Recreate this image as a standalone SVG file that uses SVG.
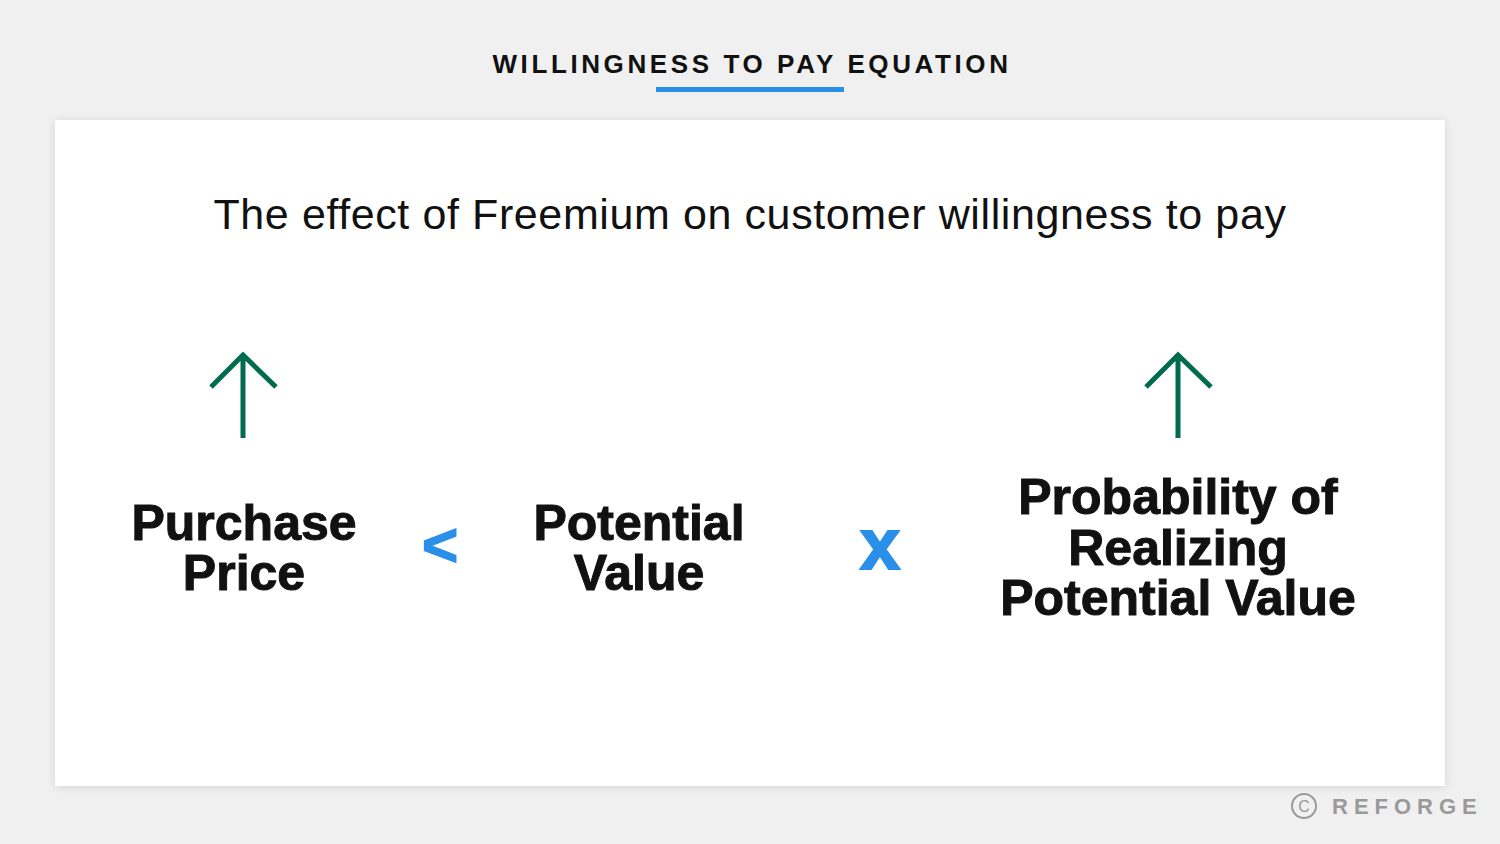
<svg xmlns="http://www.w3.org/2000/svg" width="1500" height="844" viewBox="0 0 1500 844">
<defs>
<style>
.title{font-family:"Liberation Sans",Arial,sans-serif;font-weight:bold;font-size:26px;letter-spacing:3.6px;fill:#111;}
.sub{font-family:"Liberation Sans",Arial,sans-serif;font-size:43px;letter-spacing:0.6px;fill:#111;}
.lbl{font-family:"Liberation Sans",Arial,sans-serif;font-weight:bold;font-size:50px;fill:#111;stroke:#111;stroke-width:1;}
.op{font-family:"Liberation Sans",Arial,sans-serif;font-weight:bold;fill:#2a8fe8;stroke:#2a8fe8;}
.arrow{stroke:#006b4e;stroke-width:5;fill:none;}
.brand{font-family:"Liberation Sans",Arial,sans-serif;font-weight:bold;font-size:22px;letter-spacing:6px;fill:#9a9a9a;}
</style>
<filter id="sh" x="-5%" y="-5%" width="110%" height="110%">
<feGaussianBlur in="SourceAlpha" stdDeviation="4"/>
<feOffset dy="1"/>
<feComponentTransfer><feFuncA type="linear" slope="0.12"/></feComponentTransfer>
<feMerge><feMergeNode/><feMergeNode in="SourceGraphic"/></feMerge>
</filter>
</defs>
<rect width="1500" height="844" fill="#f0f0f0"/>
<g id="header">
<text class="title" x="752" y="73" text-anchor="middle">WILLINGNESS TO PAY EQUATION</text>
<rect x="656" y="87" width="188" height="5" fill="#2a8fe8"/>
</g>
<rect id="card" x="55" y="120" width="1390" height="666" fill="#ffffff" filter="url(#sh)"/>
<g id="subtitle">
<text class="sub" x="750" y="229" text-anchor="middle">The effect of Freemium on customer willingness to pay</text>
</g>
<g id="connectors">
<g id="arrow1"><path class="arrow" d="M243 438 V356 M211 387 L243 355 L276 387"/></g>
<g id="arrow2"><path class="arrow" d="M1178 438 V356 M1146 387 L1178 355 L1211 387"/></g>
</g>
<g id="purchase-price">
<text class="lbl" x="244" text-anchor="middle"><tspan x="244" y="540">Purchase</tspan><tspan x="244" y="590">Price</tspan></text>
</g>
<g id="less-than"><text class="op" x="440" y="566" font-size="62" stroke-width="1.5" text-anchor="middle">&lt;</text></g>
<g id="potential-value">
<text class="lbl" text-anchor="middle"><tspan x="639" y="540">Potential</tspan><tspan x="639" y="590">Value</tspan></text>
</g>
<g id="times"><text class="op" x="880" y="569" font-size="72" stroke-width="2" text-anchor="middle">x</text></g>
<g id="probability">
<text class="lbl" text-anchor="middle"><tspan x="1178" y="514">Probability of</tspan><tspan x="1178" y="565">Realizing</tspan><tspan x="1178" y="615">Potential Value</tspan></text>
</g>
<g id="brand">
<circle cx="1304" cy="806" r="12" fill="none" stroke="#9a9a9a" stroke-width="2"/>
<text x="1304" y="812" font-family="Liberation Sans,Arial,sans-serif" font-size="16" fill="#9a9a9a" text-anchor="middle">C</text>
<text class="brand" x="1332" y="814">REFORGE</text>
</g>
</svg>
